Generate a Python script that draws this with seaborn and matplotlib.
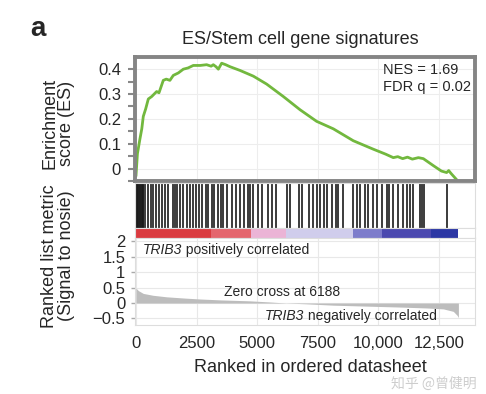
import numpy as np
import matplotlib
matplotlib.use("Agg")
import matplotlib.pyplot as plt
import seaborn as sns

sns.set_theme(style="white")
plt.rcParams['font.family'] = ['Liberation Sans', 'DejaVu Sans']

# running enrichment score
es_rank = [0, 60, 165, 240, 302, 400, 509, 650, 853, 950, 1127, 1250, 1400, 1540,
           1750, 1953, 2150, 2365, 2650, 2915, 3100, 3190, 3300, 3398, 3534, 3700,
           3878, 4290, 4840, 5390, 6078, 6765, 7453, 8140, 8965, 9790, 10300, 10615,
           10800, 11000, 11200, 11400, 11650, 11853, 12265, 12600, 12815, 12900,
           13000, 13230]
es_score = [-0.03, 0.06, 0.12, 0.16, 0.21, 0.24, 0.28, 0.29, 0.31, 0.305, 0.355,
            0.36, 0.355, 0.375, 0.385, 0.40, 0.405, 0.415, 0.415, 0.418, 0.412,
            0.418, 0.41, 0.40, 0.424, 0.418, 0.41, 0.395, 0.372, 0.34, 0.29, 0.237,
            0.19, 0.16, 0.112, 0.078, 0.058, 0.044, 0.048, 0.04, 0.046, 0.038, 0.044,
            0.04, 0.012, -0.01, -0.016, -0.008, -0.02, -0.045]

# gene set hits along the ranked list
hits = [27, 60, 96, 130, 165, 200, 234, 270, 302, 371, 509, 605, 715, 825, 962,
        1059, 1196, 1334, 1512, 1609, 1705, 1815, 1952, 2090, 2228, 2338, 2475,
        2599, 2709, 2888, 2984, 3121, 3231, 3396, 3493, 3603, 3740, 3946, 4125,
        4290, 4455, 4606, 4703, 4840, 5046, 5184, 5459, 5596, 5775, 6215, 6353,
        6738, 6834, 7150, 7288, 7453, 7590, 7755, 7893, 8071, 8250, 8346, 8525,
        8965, 9103, 9240, 9446, 9584, 9790, 9955, 10134, 10340, 10450, 10615,
        10821, 11000, 11165, 11303, 11440, 11715, 11784, 11880, 12815]

# colour bar of the ranked list
cb_bounds = [0, 3100, 4750, 6200, 8950, 10130, 12150, 13300]
cb_colors = ['#DA3B40', '#E4666E', '#EBB4D6', '#D0CDEC', '#7D7CCB', '#4B49AF', '#2C37A4']

# ranked list metric
metric_rank = [0, 100, 302, 700, 1265, 2000, 2640, 3500, 4700, 5500, 6188, 7000,
               8140, 9500, 10890, 12000, 12680, 13090, 13250, 13300]
metric_val = [0.48, 0.40, 0.31, 0.25, 0.20, 0.16, 0.13, 0.10, 0.07, 0.035, 0.0,
              -0.025, -0.07, -0.10, -0.13, -0.16, -0.19, -0.27, -0.40, -0.47]

x_ticks = [0, 2500, 5000, 7500, 10000, 12500]
x_ticklabels = ['0', '2500', '5000', '7500', '10,000', '12,500']
es_ticks = [0, 0.1, 0.2, 0.3, 0.4]
es_ticklabels = ['0', '0.1', '0.2', '0.3', '0.4']
m_ticks = [-0.5, 0, 0.5, 1, 1.5, 2]
m_ticklabels = ['\u22120.5', '0', '0.5', '1', '1.5', '2']

W, H = 486, 394


def px_box(x0, y0, x1, y1):
    return [x0 / W, 1 - y1 / H, (x1 - x0) / W, (y1 - y0) / H]


xlim = (-40, 13985)
fig = plt.figure(figsize=(W / 100, H / 100), dpi=100)

# --- enrichment score panel
ax1 = fig.add_axes(px_box(135, 57, 475, 181))
sns.lineplot(x=es_rank, y=es_score, ax=ax1, color='#72B83E', lw=2)
ax1.set_xlim(*xlim)
ax1.set_ylim(-0.047, 0.449)
ax1.set_xticks(x_ticks)
ax1.set_xticklabels([])
ax1.set_yticks(es_ticks)
ax1.set_yticklabels(es_ticklabels, fontsize=12)
ax1.set_yticks(np.arange(-0.05, 0.45, 0.05), minor=True)
ax1.tick_params(axis='x', length=0)
ax1.tick_params(axis='y', which='both', left=True, length=5, width=1.5,
                color='#888888', pad=5)
ax1.grid(True, color='#EDEDED', lw=0.8)
for s in ax1.spines.values():
    s.set_color('#858585')
    s.set_linewidth(2.8)
ax1.set_xlabel('')
ax1.set_ylabel('')
ax1.text(0.73, 0.95, 'NES = 1.69\nFDR q = 0.02', transform=ax1.transAxes,
         ha='left', va='top', fontsize=10.5, linespacing=1.3)

# --- hits panel
ax2 = fig.add_axes(px_box(135, 183, 475, 228))
ax2.vlines(hits, 0, 1, color='#1A1A1A', lw=1.2)
ax2.set_xlim(*xlim)
ax2.set_ylim(0, 1)
ax2.set_xticks([])
ax2.set_yticks([])
for s in ax2.spines.values():
    s.set_color('#DDDDDD')
    s.set_linewidth(0.8)

# --- colour bar
ax3 = fig.add_axes(px_box(135, 228, 475, 238))
for i in range(len(cb_colors)):
    ax3.broken_barh([(cb_bounds[i], cb_bounds[i + 1] - cb_bounds[i])], (0, 1),
                    color=cb_colors[i], lw=0)
ax3.set_xlim(*xlim)
ax3.set_ylim(0, 1)
ax3.set_xticks([])
ax3.set_yticks([])
for s in ax3.spines.values():
    s.set_color('#DDDDDD')
    s.set_linewidth(0.8)

# --- ranked list metric
ax4 = fig.add_axes(px_box(135, 238, 475, 325))
ax4.fill_between(metric_rank, 0, metric_val, color='#BDBDBD', lw=0)
ax4.set_xlim(*xlim)
ax4.set_ylim(-0.71, 2.1)
ax4.set_xticks(x_ticks)
ax4.set_xticklabels(x_ticklabels, fontsize=12)
ax4.set_yticks(m_ticks)
ax4.set_yticklabels(m_ticklabels, fontsize=12)
ax4.tick_params(axis='x', length=0, pad=8)
ax4.tick_params(axis='y', left=True, length=3, width=1, color='#AAAAAA', pad=4)
ax4.grid(True, color='#E8E8E8', lw=0.8)
for s in ax4.spines.values():
    s.set_color('#DDDDDD')
    s.set_linewidth(0.8)

# italic gene name followed by plain text
t_pos = ax4.text(290, 1.71, 'TRIB3', style='italic', ha='left', va='center', fontsize=10)
ax4.annotate(' positively correlated', xy=(1, 0.5), xycoords=t_pos,
             ha='left', va='center', fontsize=10)
ax4.text(6023, 0.35, 'Zero cross at 6188', ha='center', va='center', fontsize=10)
t_neg = ax4.text(12417, -0.42, ' negatively correlated', ha='right', va='center',
                 fontsize=10)
ax4.annotate('TRIB3', xy=(0, 0.5), xycoords=t_neg, style='italic',
             ha='right', va='center', fontsize=10)

# --- labels
fig.text(30 / W, 1 - 29 / H, 'a', fontsize=20, fontweight='bold', ha='left', va='center')
fig.text(300 / W, 1 - 40 / H, 'ES/Stem cell gene signatures', fontsize=13,
         ha='center', va='center')
fig.text(58 / W, 1 - 123 / H, 'Enrichment\nscore (ES)', rotation=90, fontsize=13,
         ha='center', va='center', multialignment='center', linespacing=1.0)
fig.text(58 / W, 1 - 256 / H, 'Ranked list metric\n(Signal to nosie)', rotation=90,
         fontsize=13, ha='center', va='center', multialignment='center', linespacing=1.0)
fig.text(310 / W, 1 - 367 / H, 'Ranked in ordered datasheet', fontsize=13,
         ha='center', va='center')
fig.text(434 / W, 1 - 384 / H, '知乎 @曾健明', fontsize=10, color='#C8C8C8', alpha=0.9,
         family=['Noto Sans CJK SC', 'DejaVu Sans'], ha='center', va='center')

fig.savefig('out.png', dpi=100)
